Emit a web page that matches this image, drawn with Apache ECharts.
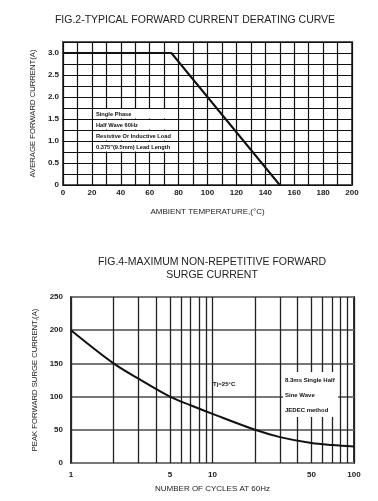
<!DOCTYPE html>
<html><head><meta charset="utf-8">
<script src="https://cdn.jsdelivr.net/npm/echarts@6/dist/echarts.min.js"></script>
<style>html,body{margin:0;padding:0;background:#fff}#c{width:378px;height:501px}</style>
</head><body><div id="c"></div>
<script>
// ---- Data ----
const deratingTemp = [0, 75, 150];
const deratingCurrent = [3.0, 3.0, 0];
const surgeCycles = [1, 2, 3, 5, 7, 10, 20, 30, 50, 70, 100];
const surgeCurrent = [200, 150, 127, 100, 87, 74, 50, 39, 30, 27, 25];
const cycleLabels = [1, 5, 10, 50, 100];
const cycleGridValues = [1, 2, 3, 4, 5, 6, 7, 8, 9, 10, 20, 30, 40, 50, 60, 70, 80, 90, 100];
const notesTop = ['Single Phase', 'Half Wave 60Hz', 'Resistive Or Inductive Load', '0.375"(9.5mm) Lead Length'];
const notesBottom = ['8.3ms Single Half', 'Sine Wave', 'JEDEC method'];
const tjNote = 'Tj=25°C';
const title1 = 'FIG.2-TYPICAL FORWARD CURRENT DERATING CURVE';
const title2 = 'FIG.4-MAXIMUM NON-REPETITIVE FORWARD\nSURGE CURRENT';

const FONT = "'Liberation Sans', Arial, sans-serif";
const chart = echarts.init(document.getElementById('c'), null, {renderer: 'canvas'});

const tickLabel = {fontFamily: FONT, fontSize: 8, fontWeight: 'bold', color: '#222'};
const nameStyle = {fontFamily: FONT, fontSize: 8, color: '#222'};
const nameStyleY = {fontFamily: FONT, fontSize: 7.7, color: '#222'};

const graphics = [];
notesTop.forEach((t, i) => {
  const y = 109 + i * 11;
  graphics.push({type: 'rect', shape: {x: 93, y: y, width: 85, height: 9.5}, style: {fill: '#fff'}, z: 100});
  graphics.push({type: 'text', x: 96, y: y + 5, style: {text: t, font: 'bold 5.7px ' + FONT, fill: '#111', verticalAlign: 'middle'}, z: 101});
});
graphics.push({type: 'rect', shape: {x: 283, y: 372, width: 55, height: 45}, style: {fill: '#fff'}, z: 100});
notesBottom.forEach((t, i) => {
  graphics.push({type: 'text', x: 285, y: 380 + i * 15, style: {text: t, font: 'bold 6px ' + FONT, fill: '#111', verticalAlign: 'middle'}, z: 101});
});
graphics.push({type: 'text', x: 213, y: 384, style: {text: tjNote, font: 'bold 6px ' + FONT, fill: '#111', verticalAlign: 'middle'}, z: 101});

chart.setOption({
  animation: false,
  backgroundColor: '#fff',
  title: [
    {text: title1, left: 190, top: 10, textAlign: 'center',
     textStyle: {fontFamily: FONT, fontSize: 10.5, fontWeight: 'normal', color: '#222'}},
    {text: title2, left: 207, top: 251, textAlign: 'center',
     textStyle: {fontFamily: FONT, fontSize: 10.5, fontWeight: 'normal', color: '#222', lineHeight: 13}}
  ],
  grid: [
    {left: 63, top: 42, width: 289, height: 143, show: true, borderColor: '#555', borderWidth: 2, backgroundColor: 'transparent'},
    {left: 71, top: 297, width: 283, height: 166, show: true, borderColor: '#333', borderWidth: 2, backgroundColor: 'transparent'}
  ],
  xAxis: [
    {gridIndex: 0, type: 'value', min: 0, max: 200, interval: 10,
     axisLine: {show: false}, axisTick: {show: false},
     splitLine: {show: true, lineStyle: {color: '#111', width: 1.2}},
     axisLabel: Object.assign({margin: 4, formatter: v => (v % 20 === 0 ? String(v) : '')}, tickLabel),
     name: 'AMBIENT TEMPERATURE,(°C)', nameLocation: 'middle', nameGap: 23, nameTextStyle: nameStyle},
    {gridIndex: 1, type: 'log', logBase: 10, min: 1, max: 100,
     axisLine: {show: false},
     axisTick: {show: false, customValues: cycleGridValues},
     splitLine: {show: true, lineStyle: {color: '#222', width: 1.3}},
     axisLabel: Object.assign({margin: 8, customValues: cycleLabels, formatter: v => String(v)}, tickLabel),
     name: 'NUMBER OF CYCLES AT 60Hz', nameLocation: 'middle', nameGap: 22, nameTextStyle: nameStyle}
  ],
  yAxis: [
    {gridIndex: 0, type: 'value', min: 0, max: 3.25, interval: 0.25,
     axisLine: {show: false}, axisTick: {show: false},
     splitLine: {show: true, lineStyle: {color: '#111', width: 1.2}},
     axisLabel: Object.assign({margin: 4, formatter: v => {
       if (v > 3.001) return '';
       if (Math.abs(v * 2 - Math.round(v * 2)) > 1e-6) return '';
       return v === 0 ? '0' : v.toFixed(1);
     }}, tickLabel),
     name: 'AVERAGE FORWARD CURRENT(A)', nameLocation: 'middle', nameGap: 21, nameTextStyle: nameStyleY},
    {gridIndex: 1, type: 'value', min: 0, max: 250, interval: 50,
     axisLine: {show: false}, axisTick: {show: false},
     splitLine: {show: true, lineStyle: {color: '#777', width: 2}},
     axisLabel: Object.assign({margin: 8}, tickLabel),
     name: 'PEAK FORWARD SURGE CURRENT,(A)', nameLocation: 'middle', nameGap: 31, nameTextStyle: nameStyleY}
  ],
  series: [
    {type: 'line', xAxisIndex: 0, yAxisIndex: 0, symbol: 'none',
     lineStyle: {color: '#111', width: 2},
     data: deratingTemp.map((t, i) => [t, deratingCurrent[i]])},
    {type: 'line', xAxisIndex: 1, yAxisIndex: 1, symbol: 'none', smooth: 0.35,
     lineStyle: {color: '#111', width: 2},
     data: surgeCycles.map((c, i) => [c, surgeCurrent[i]])}
  ],
  graphic: graphics
});
</script></body></html>
